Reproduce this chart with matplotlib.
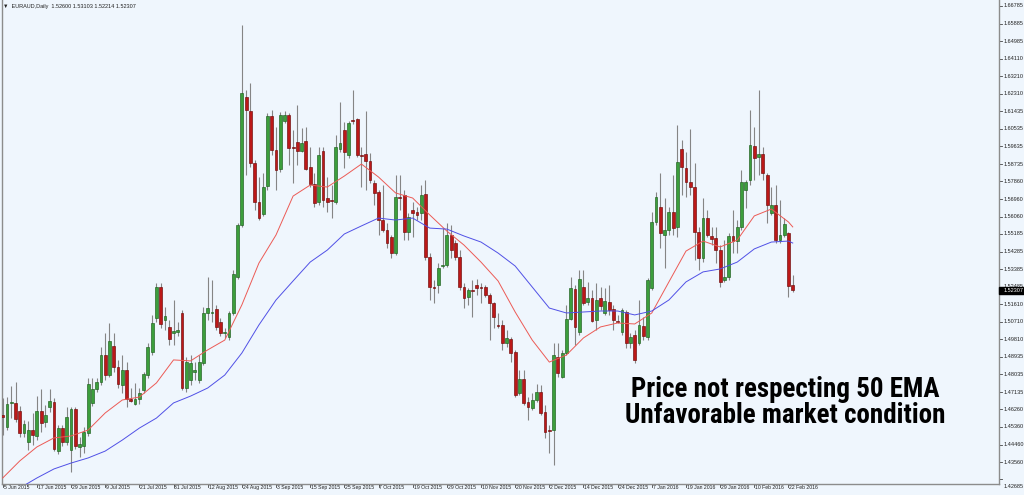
import os
import numpy as np
import matplotlib
matplotlib.use('Agg')
import matplotlib.pyplot as plt
import matplotlib.transforms as mtransforms
from matplotlib.patches import Rectangle
from matplotlib import font_manager as fm
from matplotlib.textpath import TextPath

# ---------------- data (EURAUD daily) ----------------
opens = [1.4597,1.4536,1.4658,1.4658,1.4617,1.4505,1.4459,1.4520,1.4490,1.4617,
         1.4561,1.4637,1.4663,1.4413,1.4530,1.4459,1.4419,1.4627,1.4434,1.4439,
         1.4505,1.4658,1.4729,1.4765,1.4902,1.4800,1.4948,1.4841,1.4749,1.4826,
         1.4678,1.4653,1.4678,1.4724,1.4800,1.4917,1.5090,1.5248,1.5080,1.5045,
         1.5014,1.5019,1.5116,1.4734,1.4775,1.4816,1.4775,1.4861,1.5116,1.5116,
         1.5136,1.5070,1.5014,1.4994,1.5116,1.5299,1.5564,1.6215,1.6144,1.5879,
         1.5681,1.5620,1.5762,1.6119,1.5945,1.5849,1.6093,1.6124,1.5961,1.5986,
         1.5940,1.5991,1.5859,1.5772,1.5681,1.5940,1.5701,1.5691,1.5681,1.5951,
         1.6047,1.5920,1.6098,1.6103,1.5920,1.5925,1.5890,1.5778,1.5732,1.5589,
         1.5538,1.5503,1.5421,1.5706,1.5716,1.5528,1.5640,1.5630,1.5625,1.5722,
         1.5401,1.5248,1.5258,1.5355,1.5360,1.5513,1.5472,1.5401,1.5248,1.5197,
         1.5233,1.5258,1.5248,1.5248,1.5207,1.5167,1.5055,1.5055,1.4963,1.4983,
         1.4917,1.4709,1.4780,1.4663,1.4632,1.4673,1.4714,1.4612,1.4520,1.4520,
         1.4892,1.4790,1.4912,1.5085,1.5238,1.5019,1.5248,1.5172,1.5192,1.5080,
         1.5192,1.5116,1.5172,1.5136,1.5075,1.5019,1.5121,1.4963,1.5004,1.4963,
         1.5050,1.4994,1.5243,1.5579,1.5655,1.5513,1.5538,1.5630,1.5554,1.5951,
         1.5854,1.5783,1.5757,1.5528,1.5396,1.5599,1.5508,1.5498,1.5436,1.5284,
         1.5299,1.5508,1.5482,1.5554,1.5742,1.5793,1.5966,1.5910,1.5925,1.5818,
         1.5625,1.5666,1.5487,1.5513,1.5523,1.52600]
highs = [1.4683,1.4688,1.4744,1.4765,1.4642,1.4571,1.4566,1.4607,1.4693,1.4729,
         1.4648,1.4729,1.4683,1.4546,1.4546,1.4637,1.4637,1.4637,1.4485,1.4536,
         1.4785,1.4785,1.4785,1.4943,1.5014,1.5065,1.5014,1.4877,1.4902,1.4866,
         1.4734,1.4760,1.4734,1.4816,1.4963,1.5106,1.5269,1.5269,1.5146,1.5080,
         1.5182,1.5070,1.5131,1.4892,1.4902,1.4866,1.4902,1.5146,1.5299,1.5284,
         1.5157,1.5090,1.5039,1.5126,1.5335,1.5574,1.6582,1.6251,1.6287,1.5895,
         1.5808,1.5828,1.6134,1.6149,1.6063,1.6139,1.6144,1.6134,1.6047,1.6175,
         1.6057,1.6063,1.5961,1.5828,1.5961,1.5961,1.5808,1.5767,1.6022,1.6190,
         1.6088,1.6093,1.6251,1.6108,1.5961,1.6144,1.5930,1.5793,1.5742,1.5767,
         1.5574,1.5513,1.5818,1.5818,1.5742,1.5625,1.5681,1.5655,1.5767,1.5793,
         1.5421,1.5284,1.5370,1.5548,1.5574,1.5564,1.5487,1.5436,1.5269,1.5243,
         1.5284,1.5289,1.5269,1.5258,1.5218,1.5172,1.5116,1.5080,1.5029,1.4994,
         1.4928,1.4826,1.4826,1.4688,1.4709,1.4754,1.4749,1.4648,1.4546,1.4963,
         1.4963,1.4928,1.5157,1.5299,1.5258,1.5335,1.5335,1.5274,1.5233,1.5269,
         1.5248,1.5243,1.5258,1.5157,1.5106,1.5141,1.5131,1.5014,1.5029,1.5182,
         1.5095,1.5294,1.5630,1.5732,1.5828,1.5701,1.5655,1.5818,1.6073,1.5996,
         1.5935,1.6052,1.5879,1.5554,1.5701,1.5640,1.5554,1.5554,1.5462,1.5487,
         1.5523,1.5640,1.5589,1.5844,1.5793,1.6149,1.6063,1.6251,1.5961,1.5828,
         1.5757,1.5767,1.5691,1.5599,1.5528,1.53103]
lows = [1.4495,1.4520,1.4581,1.4561,1.4485,1.4485,1.4419,1.4444,1.4469,1.4510,
        1.4536,1.4612,1.4413,1.4398,1.4439,1.4444,1.4307,1.4424,1.4383,1.4403,
        1.4490,1.4642,1.4714,1.4749,1.4775,1.4790,1.4816,1.4734,1.4709,1.4637,
        1.4663,1.4648,1.4653,1.4709,1.4785,1.4902,1.5070,1.5039,1.5029,1.4953,
        1.4953,1.4999,1.4724,1.4714,1.4749,1.4775,1.4760,1.4851,1.5080,1.5070,
        1.5029,1.4999,1.4989,1.4978,1.5106,1.5289,1.5554,1.5818,1.5859,1.5640,
        1.5589,1.5610,1.5742,1.5920,1.5742,1.5834,1.6083,1.5869,1.5778,1.5869,
        1.5935,1.5844,1.5757,1.5655,1.5666,1.5655,1.5630,1.5599,1.5671,1.5935,
        1.5854,1.5905,1.6078,1.5910,1.5757,1.5742,1.5778,1.5666,1.5513,1.5528,
        1.5447,1.5396,1.5411,1.5640,1.5487,1.5487,1.5503,1.5589,1.5589,1.5386,
        1.5182,1.5167,1.5218,1.5345,1.5350,1.5396,1.5386,1.5233,1.5141,1.5157,
        1.5095,1.5207,1.5167,1.5197,1.4978,1.5039,1.5039,1.4928,1.4943,1.4866,
        1.4688,1.4698,1.4648,1.4571,1.4622,1.4663,1.4597,1.4480,1.4403,1.4342,
        1.4790,1.4785,1.4902,1.5080,1.4953,1.5004,1.5157,1.5157,1.5070,1.5029,
        1.5131,1.5106,1.5106,1.5029,1.5065,1.5004,1.4938,1.4938,1.4861,1.4953,
        1.4978,1.4978,1.5233,1.5564,1.5447,1.5345,1.5513,1.5513,1.5503,1.5716,
        1.5706,1.5716,1.5386,1.5335,1.5375,1.5503,1.5462,1.5370,1.5248,1.5274,
        1.5284,1.5421,1.5421,1.5538,1.5650,1.5767,1.5793,1.5818,1.5793,1.5574,
        1.5615,1.5472,1.5472,1.5503,1.5197,1.52214]
closes = [1.4586,1.4653,1.4663,1.4576,1.4505,1.4551,1.4520,1.4495,1.4617,1.4556,
          1.4597,1.4668,1.4424,1.4530,1.4459,1.4586,1.4627,1.4439,1.4449,1.4510,
          1.4754,1.4729,1.4765,1.4902,1.4800,1.4973,1.4841,1.4754,1.4826,1.4678,
          1.4668,1.4678,1.4709,1.4805,1.4943,1.5065,1.5248,1.5060,1.5101,1.4983,
          1.5024,1.5029,1.4734,1.4866,1.4861,1.4826,1.4866,1.5116,1.5141,1.5121,
          1.5045,1.5014,1.5019,1.5116,1.5314,1.5564,1.6236,1.6149,1.5879,1.5681,
          1.5599,1.5757,1.6119,1.5945,1.5844,1.6124,1.6124,1.5956,1.5956,1.5940,
          1.5981,1.5849,1.5772,1.5676,1.5920,1.5691,1.5681,1.5686,1.5961,1.5981,
          1.5935,1.6083,1.6093,1.5920,1.5915,1.5890,1.5793,1.5727,1.5589,1.5538,
          1.5472,1.5421,1.5706,1.5701,1.5528,1.5604,1.5625,1.5615,1.5716,1.5401,
          1.5248,1.5243,1.5345,1.5360,1.5513,1.5436,1.5401,1.5248,1.5192,1.5233,
          1.5228,1.5243,1.5243,1.5207,1.5167,1.5095,1.5050,1.4963,1.4989,1.4912,
          1.4698,1.4780,1.4658,1.4637,1.4673,1.4714,1.4607,1.4510,1.4515,1.4902,
          1.4810,1.4912,1.5085,1.5243,1.5045,1.5289,1.5167,1.5192,1.5075,1.5182,
          1.5151,1.5177,1.5131,1.5080,1.5070,1.5131,1.4963,1.4994,1.4877,1.5055,
          1.4999,1.5284,1.5579,1.5706,1.5523,1.5538,1.5630,1.5548,1.5884,1.5859,
          1.5783,1.5757,1.5528,1.5396,1.5599,1.5513,1.5492,1.5436,1.5274,1.5299,
          1.5508,1.5482,1.5554,1.5783,1.5783,1.5971,1.5905,1.5925,1.5828,1.5666,
          1.5666,1.5487,1.5513,1.5569,1.5255,1.52307]

ema_fast_idx = list(range(0, 185, 4)) + [185]
ema_fast = [1.4276,1.4363,1.4434,1.4480,1.4490,1.4520,1.4607,1.4673,1.4688,1.4760,
            1.4877,1.4872,1.4928,1.4978,1.5157,1.5370,1.5513,1.5711,1.5767,1.5757,
            1.5813,1.5874,1.5808,1.5727,1.5701,1.5615,1.5533,1.5462,1.5375,1.5279,
            1.5121,1.4978,1.4866,1.4902,1.4989,1.5045,1.5065,1.5060,1.5116,1.5274,
            1.5431,1.5482,1.5452,1.5487,1.5610,1.5645,1.5579,1.5554]
ema_slow_idx = list(range(4, 185, 4)) + [185]
ema_slow = [1.4225,1.4276,1.4322,1.4352,1.4378,1.4413,1.4469,1.4530,1.4581,1.4658,
            1.4693,1.4734,1.4800,1.4912,1.5055,1.5182,1.5279,1.5375,1.5436,1.5518,
            1.5559,1.5599,1.5589,1.5599,1.5548,1.5543,1.5508,1.5477,1.5421,1.5355,
            1.5248,1.5141,1.5116,1.5121,1.5126,1.5126,1.5106,1.5126,1.5182,1.5274,
            1.5325,1.5340,1.5375,1.5442,1.5477,1.5482,1.5472]

price_ticks = [1.66785, 1.65885, 1.64985, 1.64110, 1.63210, 1.62310, 1.61435,
               1.60535, 1.59635, 1.58735, 1.57860, 1.56960, 1.56060, 1.55185,
               1.54285, 1.53385, 1.52485, 1.51610, 1.50710, 1.49810, 1.48935,
               1.48035, 1.47135, 1.46260, 1.45360, 1.44460, 1.43560, 1.42685]
date_labels = ['5 Jun 2015', '17 Jun 2015', '29 Jun 2015', '9 Jul 2015',
               '21 Jul 2015', '31 Jul 2015', '12 Aug 2015', '24 Aug 2015',
               '3 Sep 2015', '15 Sep 2015', '25 Sep 2015', '7 Oct 2015',
               '19 Oct 2015', '29 Oct 2015', '10 Nov 2015', '20 Nov 2015',
               '2 Dec 2015', '14 Dec 2015', '24 Dec 2015', '7 Jan 2016',
               '19 Jan 2016', '29 Jan 2016', '10 Feb 2016', '22 Feb 2016']
title_text = '\u25BC  EURAUD,Daily  1.52600 1.53103 1.52214 1.52307'
note_lines = ['Price not respecting 50 EMA', 'Unfavorable market condition']

# ---------------- style ----------------
BG = '#EFF6FD'
GREEN = '#3C9E3C'
GREEN_EDGE = '#1E5E1E'
RED = '#BC1818'
RED_EDGE = '#6E0A0A'
WICK = '#858585'
AXC = '#8C8C8C'
W, H = 1024, 495
AX_TOP, AX_BOT = 0, 484          # pixel rows of the plot frame
PPX = 0.000509                   # price per pixel
P_TOP = 1.6709                   # price at pixel row 0

fig = plt.figure(figsize=(W / 100, H / 100), dpi=100, facecolor=BG)
ax = fig.add_axes([2 / W, 1 - AX_BOT / H, (999 - 2) / W, (AX_BOT - AX_TOP) / H])
ax.set_facecolor(BG)
ax.set_xlim(-0.164, 233.3)
ax.set_ylim(P_TOP - PPX * AX_BOT, P_TOP - PPX * AX_TOP)

o = np.array(opens); h = np.array(highs); l = np.array(lows); c = np.array(closes)
idx = np.arange(len(o))
ax.vlines(idx, l, h, colors=WICK, lw=0.8, zorder=2)
bull = c >= o
bear = ~bull
ax.bar(idx[bull], c[bull] - o[bull], bottom=o[bull], width=0.66, color=GREEN,
       edgecolor=GREEN_EDGE, linewidth=0.45, zorder=3)
ax.bar(idx[bear], o[bear] - c[bear], bottom=c[bear], width=0.66, color=RED,
       edgecolor=RED_EDGE, linewidth=0.45, zorder=3)

ax.plot(ema_fast_idx, ema_fast, color='#EC5A55', lw=0.7, zorder=4)
ax.plot(ema_slow_idx, ema_slow, color='#5050E6', lw=0.7, zorder=4)

ax.spines['top'].set_visible(False)
for s in ['left', 'right', 'bottom']:
    ax.spines[s].set_color(AXC)
    ax.spines[s].set_linewidth(1.0)
ax.set_xticks([])
ax.set_yticks([])

axh = AX_BOT - AX_TOP
# date axis: small tick then label to its right
tx = mtransforms.blended_transform_factory(ax.transData, ax.transAxes)
for k, lab in enumerate(date_labels):
    xi = 8 * k
    ax.plot([xi, xi], [0, -3.2 / axh], color='#444444', lw=0.6, transform=tx, clip_on=False)
    ax.text(xi + 0.2, -3.2 / axh, lab, transform=tx, fontsize=3.7, family='Liberation Sans',
            ha='left', va='center', color='#222222', clip_on=False)

# price axis (drawn manually so the label under the frame is also shown)
ty = mtransforms.blended_transform_factory(ax.transAxes, ax.transData)
ty_low = mtransforms.offset_copy(ty, fig=fig, x=0, y=-7, units='dots')
for p in price_ticks:
    ax.plot([1.0, 1.003], [p, p], color='#444444', lw=0.6, transform=ty, clip_on=False)
    tr = ty_low if p == price_ticks[-1] else ty
    ax.text(1.0045, p, f'{p:.5f}', transform=tr, fontsize=4, family='Liberation Sans',
            va='center', ha='left', color='#222222', clip_on=False)

# current price marker
last = closes[-1]
ax.add_patch(Rectangle((1.0005, last - 0.0018), 0.026, 0.0036, transform=ty,
                       facecolor='black', edgecolor='black', clip_on=False, zorder=10))
ax.text(1.0045, last, f'{last:.5f}', transform=ty, fontsize=4, family='Liberation Sans',
        va='center', ha='left', color='white', clip_on=False, zorder=11)

fig.text(3 / W, 1 - 6.5 / H, title_text, fontsize=4, family=['Liberation Sans', 'DejaVu Sans'],
         va='center', ha='left', color='#222222')


# ---- annotation: pick the bold sans face whose proportions best match ----
def pick_note_font(sample, target_ratio):
    best, best_err = None, 1e9
    seen = set()
    for f in fm.fontManager.ttflist:
        if f.fname in seen:
            continue
        seen.add(f.fname)
        nm = f.name.lower()
        fn = os.path.basename(f.fname).lower()
        if f.style != 'normal' or 'italic' in fn or 'oblique' in fn:
            continue
        if 'mono' in nm or 'cjk' in nm or ('serif' in nm and 'sans' not in nm):
            continue
        if nm.startswith('cm') or 'stix' in nm or 'math' in nm or 'symbol' in nm:
            continue
        w = f.weight
        if isinstance(w, str):
            bold = ('bold' in w and 'extra' not in w and 'ultra' not in w and 'semi' not in w)
        else:
            bold = 650 <= w <= 750
        if not bold:
            continue
        try:
            fp = fm.FontProperties(fname=f.fname, size=100)
            tw = TextPath((0, 0), sample, prop=fp).get_extents().width
            ch = TextPath((0, 0), 'H', prop=fp).get_extents().height
        except Exception:
            continue
        if tw <= 0:
            continue
        err = abs(ch / tw - target_ratio)
        if err < best_err:
            best, best_err = f.fname, err
    return best


nf = pick_note_font(note_lines[0], 19.5 / 309.0)
if nf:
    fp = fm.FontProperties(fname=nf, size=18)
else:
    fp = fm.FontProperties(family=['Liberation Sans', 'DejaVu Sans'], weight='bold', size=18)

t1 = fig.text(785 / W, 1 - 397 / H, note_lines[0], fontproperties=fp,
              ha='center', va='baseline', color='black')
t2 = fig.text(785 / W, 1 - 423 / H, note_lines[1], fontproperties=fp,
              ha='center', va='baseline', color='black')
fig.canvas.draw()
r = fig.canvas.get_renderer()
wpx = t1.get_window_extent(renderer=r).width
scale = 309.0 / wpx
for t in (t1, t2):
    t.set_fontsize(18 * scale)

fig.savefig('out.png', dpi=100, facecolor=BG)
